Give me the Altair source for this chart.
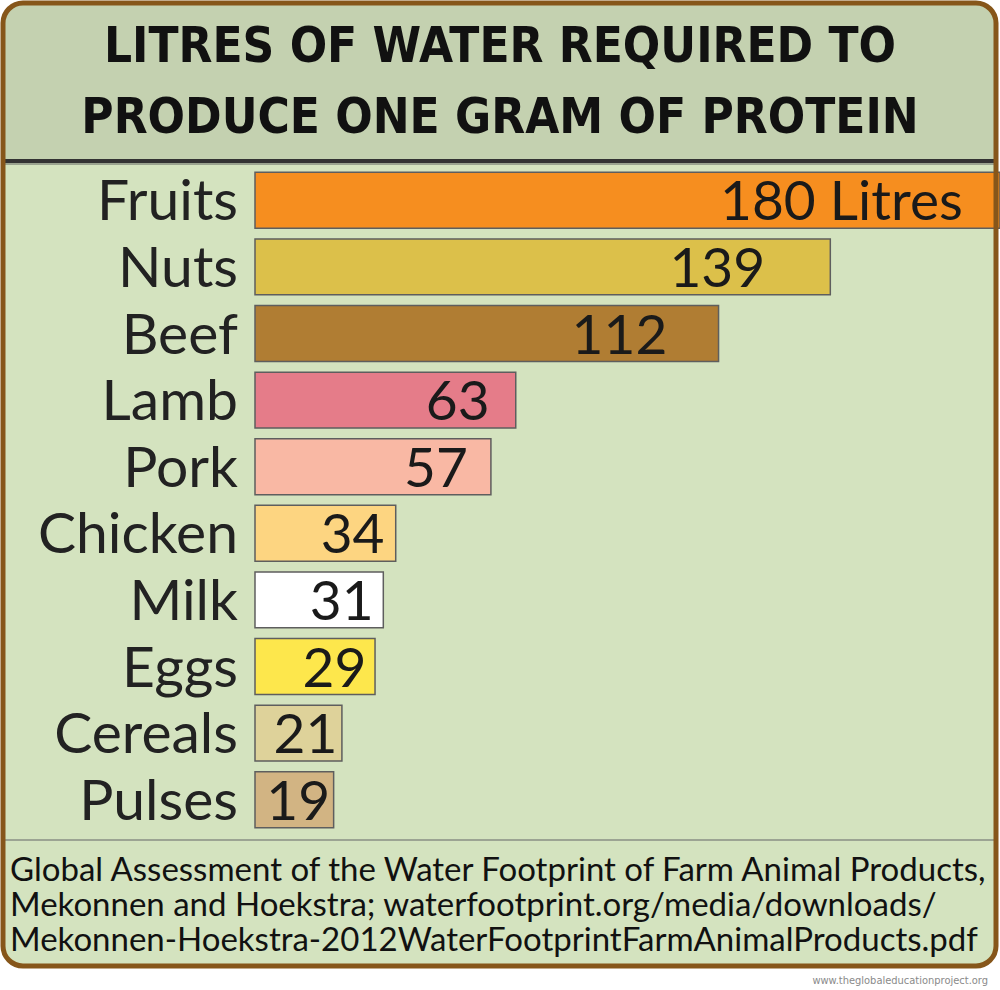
import altair as alt
import pandas as pd

categories = ["Fruits", "Nuts", "Beef", "Lamb", "Pork", "Chicken", "Milk", "Eggs", "Cereals", "Pulses"]
values = [180, 139, 112, 63, 57, 34, 31, 29, 21, 19]
value_labels = ["180 Litres", "139", "112", "63", "57", "34", "31", "29", "21", "19"]
bar_colors = ["#f68e1f", "#dcc04a", "#b07d33", "#e57c89", "#f9b8a4",
              "#fdd581", "#ffffff", "#fde74c", "#ded29a", "#d2b483"]

title_lines = ["LITRES OF WATER REQUIRED TO", "PRODUCE ONE GRAM OF PROTEIN"]
source_text = ("Global Assessment of the Water Footprint of Farm Animal Products,\n"
               "Mekonnen and Hoekstra; waterfootprint.org/media/downloads/\n"
               "Mekonnen-Hoekstra-2012WaterFootprintFarmAnimalProducts.pdf")
watermark = "www.theglobaleducationproject.org"

df = pd.DataFrame({"category": categories, "value": values, "label": value_labels})

W, H = 1000, 990
COND = "DejaVu Sans Condensed, DejaVu Sans, sans-serif"
REG = "Lato, Open Sans, sans-serif"

xs = alt.Scale(domain=[0, 180], range=[255, 1000])
ys = alt.Scale(domain=categories, range=[167, 833], paddingInner=0.16, paddingOuter=0.08)

one = pd.DataFrame({"a": [0]})
base1 = alt.Chart(one)

frame_fill = base1.mark_rect(fill="#d4e3bf", cornerRadius=20).encode(
    x=alt.value(3), x2=alt.value(996), y=alt.value(3), y2=alt.value(966))
title_fill = base1.mark_rect(fill="#c4d1b0", cornerRadiusTopLeft=20, cornerRadiusTopRight=20).encode(
    x=alt.value(3), x2=alt.value(996), y=alt.value(3), y2=alt.value(160))
title_rule = base1.mark_rule(color="#333333", strokeWidth=4).encode(
    x=alt.value(3), x2=alt.value(996), y=alt.value(161))
title_rule2 = base1.mark_rule(color="#9aa38f", strokeWidth=2).encode(
    x=alt.value(3), x2=alt.value(996), y=alt.value(164))
foot_rule = base1.mark_rule(color="#8a8f84", strokeWidth=1.5).encode(
    x=alt.value(3), x2=alt.value(996), y=alt.value(840))

t1 = base1.mark_text(font=COND, fontWeight="bold", fontSize=49, align="center",
                     baseline="alphabetic", color="#111111").encode(
    x=alt.value(500), y=alt.value(62), text=alt.value(title_lines[0]))
t2 = base1.mark_text(font=COND, fontWeight="bold", fontSize=49, align="center",
                     baseline="alphabetic", color="#111111").encode(
    x=alt.value(500), y=alt.value(133), text=alt.value(title_lines[1]))

base = alt.Chart(df)

bars = base.mark_bar(stroke="#5e5e5e", strokeWidth=1.5).encode(
    x=alt.X("value:Q", scale=xs, axis=None),
    y=alt.Y("category:N", scale=ys, axis=None, sort=categories),
    color=alt.Color("category:N", scale=alt.Scale(domain=categories, range=bar_colors), legend=None),
)

cat_labels = base.mark_text(font=REG, fontSize=57, align="right", baseline="middle",
                            color="#222222", dy=3).encode(
    x=alt.value(238),
    y=alt.Y("category:N", scale=ys, axis=None, sort=categories),
    text="category:N",
)

val_labels = base.transform_calculate(
    pos="datum.value >= 170 ? datum.value - 9 : datum.value * 0.876 + 1.5"
).mark_text(font=REG, fontSize=55, align="right", baseline="middle",
            color="#1a1a1a", dy=3).encode(
    x=alt.X("pos:Q", scale=xs, axis=None),
    y=alt.Y("category:N", scale=ys, axis=None, sort=categories),
    text="label:N",
)

foot = base1.mark_text(font=REG, fontSize=33, align="left", baseline="alphabetic",
                       color="#111111", lineBreak="\n", lineHeight=35).encode(
    x=alt.value(10), y=alt.value(881), text=alt.value(source_text))

frame_stroke = base1.mark_rect(fill=None, fillOpacity=0, stroke="#86561a", strokeWidth=5,
                               cornerRadius=20).encode(
    x=alt.value(3), x2=alt.value(996), y=alt.value(3), y2=alt.value(966))

wm = base1.mark_text(font=COND, fontSize=11, align="right", baseline="alphabetic",
                     color="#8a8a8a").encode(
    x=alt.value(988), y=alt.value(984), text=alt.value(watermark))

chart = alt.layer(
    frame_fill, title_fill, title_rule, title_rule2, foot_rule, t1, t2,
    bars, cat_labels, val_labels, foot, frame_stroke, wm
).properties(
    width=W, height=H, autosize=alt.AutoSizeParams(type="none"), padding=0,
    background="white"
).configure_view(stroke=None)

chart.save("out.html", embed_options={"renderer": "svg", "actions": False})
